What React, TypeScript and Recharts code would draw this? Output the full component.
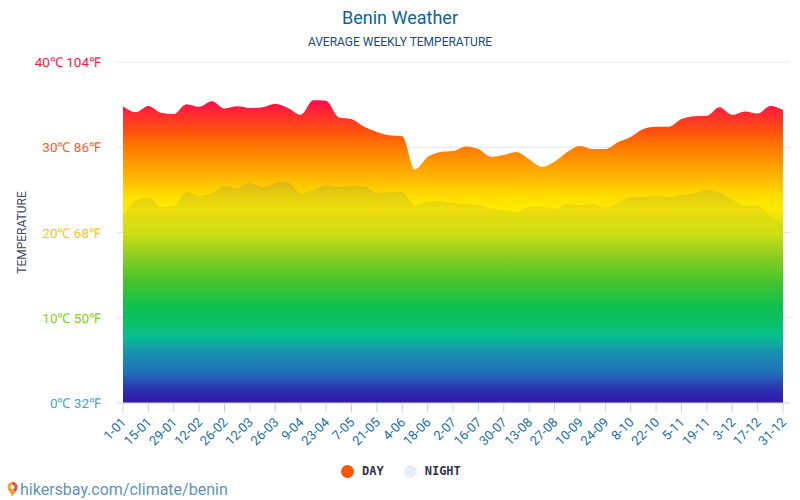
import { AreaChart, Area, XAxis, YAxis, CartesianGrid } from 'recharts';

const dates = [
  '1-01', '8-01', '15-01', '22-01', '29-01', '5-02', '12-02', '19-02', '26-02', '5-03', '12-03', '19-03', '26-03',
  '2-04', '9-04', '16-04', '23-04', '30-04', '7-05', '14-05', '21-05', '28-05', '4-06', '11-06', '18-06', '25-06',
  '2-07', '9-07', '16-07', '23-07', '30-07', '6-08', '13-08', '20-08', '27-08', '3-09', '10-09', '17-09', '24-09',
  '1-10', '8-10', '15-10', '22-10', '29-10', '5-11', '12-11', '19-11', '26-11', '3-12', '10-12', '17-12', '24-12', '31-12',
];

const dayTemps = [
  34.8, 34.1, 34.85, 34.05, 33.9, 35.05, 34.75, 35.4, 34.55, 34.8, 34.6, 34.7, 35.1,
  34.6, 33.8, 35.5, 35.45, 33.5, 33.3, 32.4, 31.8, 31.4, 31.3, 27.4, 28.85, 29.45,
  29.55, 30.1, 29.8, 28.9, 29.1, 29.45, 28.6, 27.7, 28.3, 29.45, 30.15, 29.8, 29.8,
  30.6, 31.2, 32.15, 32.4, 32.4, 33.3, 33.65, 33.7, 34.7, 33.8, 34.2, 33.95, 34.85, 34.4,
];

const nightTemps = [
  21.9, 23.7, 24.05, 23.0, 23.1, 24.75, 24.3, 24.6, 25.45, 25.2, 25.8, 25.3, 25.8,
  25.95, 24.6, 25.0, 25.55, 25.35, 25.45, 25.4, 24.65, 24.75, 24.75, 23.2, 23.6, 23.7,
  23.45, 23.35, 23.2, 22.85, 22.65, 22.4, 23.0, 23.0, 22.8, 23.35, 23.2, 23.35, 22.9,
  23.5, 24.15, 24.15, 24.3, 24.15, 24.4, 24.6, 25.0, 24.7, 23.9, 23.1, 23.2, 21.85, 21.1,
];

const yTicks = [0, 10, 20, 30, 40];
const yLabels: Record<number, string> = {
  0: '0℃ 32℉',
  10: '10℃ 50℉',
  20: '20℃ 68℉',
  30: '30℃ 86℉',
  40: '40℃ 104℉',
};
const yColors: Record<number, string> = {
  0: '#3fa3dc',
  10: '#7ed321',
  20: '#f4c80f',
  30: '#ff5a26',
  40: '#ff1a3c',
};

const legendItems = [
  { name: 'DAY', color: '#ff5500' },
  { name: 'NIGHT', color: '#e8eef8' },
];

const dayStops = [
  ['0%', '#ff1048'],
  ['2%', '#ff1a40'],
  ['10%', '#ff5010'],
  ['15.5%', '#ff7a00'],
  ['24%', '#ffae00'],
  ['32%', '#ffe000'],
  ['36%', '#ffea00'],
  ['38.6%', '#ece40a'],
  ['44%', '#cede14'],
  ['52%', '#88cc22'],
  ['60%', '#44c42c'],
  ['68%', '#10c050'],
  ['73.6%', '#08c068'],
  ['78%', '#08bf90'],
  ['83.5%', '#1a90b0'],
  ['90%', '#2070b8'],
  ['95.7%', '#2c30b0'],
  ['100%', '#3018a8'],
];

const chartData = dates.map((date, i) => ({ date, day: dayTemps[i], night: nightTemps[i] }));

function YTick({ x, y, payload }: any) {
  return (
    <text x={x - 8} y={y + 5} textAnchor="end" fontSize={13.5} fontFamily="Roboto" fill={yColors[payload.value]}>
      {yLabels[payload.value]}
    </text>
  );
}

function XTick({ x, y, payload }: any) {
  return (
    <text
      x={x + 4}
      y={y + 9}
      textAnchor="end"
      fontSize={13}
      fontFamily="Roboto"
      fill="#1a6ea8"
      transform={`rotate(-45 ${x + 4} ${y + 9})`}
    >
      {payload.value}
    </text>
  );
}

function LegendRow() {
  return (
    <div style={{ position: 'absolute', left: 341, top: 464, display: 'flex', gap: 20, fontFamily: 'DejaVu Sans Mono', fontWeight: 700, fontSize: 12, color: '#33334a' }}>
      {legendItems.map((item) => (
        <div key={item.name} style={{ display: 'flex', alignItems: 'center', gap: 8 }}>
          <span style={{ width: 13, height: 13, borderRadius: '50%', background: item.color }} />
          {item.name}
        </div>
      ))}
    </div>
  );
}

export default function App() {
  return (
    <div style={{ position: 'absolute', left: 0, top: 0, width: 800, height: 500, background: '#fff', overflow: 'hidden' }}>
      <div style={{ position: 'absolute', top: 7, width: 800, textAlign: 'center', fontFamily: 'Roboto', fontSize: 18, color: '#0f639c' }}>
        Benin Weather
      </div>
      <div style={{ position: 'absolute', top: 35, width: 800, textAlign: 'center', fontFamily: 'Roboto', fontSize: 12, color: '#0d4f86' }}>
        AVERAGE WEEKLY TEMPERATURE
      </div>
      <AreaChart width={800} height={500} data={chartData} margin={{ top: 62, right: 10, bottom: 0, left: 0 }}>
        <defs>
          <linearGradient id="dayFill" x1="0" y1="0" x2="0" y2="1">
            {dayStops.map(([offset, color]) => (
              <stop key={offset} offset={offset} stopColor={color} />
            ))}
          </linearGradient>
          <linearGradient id="nightFill" x1="0" y1="0" x2="0" y2="1">
            <stop offset="0%" stopColor="#a8a830" stopOpacity={0.38} />
            <stop offset="14%" stopColor="#a8b030" stopOpacity={0.2} />
            <stop offset="24%" stopColor="#a8c030" stopOpacity={0} />
          </linearGradient>
        </defs>
        <CartesianGrid vertical={false} stroke="#e6e6e6" />
        <XAxis
          dataKey="date"
          interval={1}
          height={97}
          padding={{ left: 6, right: 7 }}
          tick={<XTick />}
          tickSize={9}
          tickLine={{ stroke: '#c9d5e6' }}
          axisLine={{ stroke: '#d5deeb' }}
        />
        <YAxis
          domain={[0, 40]}
          ticks={yTicks}
          width={117}
          tick={<YTick />}
          tickLine={false}
          axisLine={false}
          label={{ value: 'TEMPERATURE', angle: -90, position: 'insideLeft', offset: 22, style: { fontFamily: 'Roboto', fontSize: 12, fill: '#3d4a6b', textAnchor: 'middle' } }}
        />
        <Area type="monotone" dataKey="day" stroke="none" fill="url(#dayFill)" fillOpacity={1} dot={false} activeDot={false} isAnimationActive={false} />
        <Area type="monotone" dataKey="night" stroke="none" fill="url(#nightFill)" fillOpacity={1} dot={false} activeDot={false} isAnimationActive={false} />
      </AreaChart>
      <LegendRow />
      <div style={{ position: 'absolute', left: 20, top: 480, fontFamily: 'Roboto', fontSize: 16, color: '#5f93b8' }}>
        hikersbay.com/climate/benin
      </div>
      <svg style={{ position: 'absolute', left: 6, top: 481 }} width={13} height={16} viewBox="0 0 13 16">
        <path d="M6.5 15.5 C4 11 1.5 9 1.5 6 A5 5 0 0 1 11.5 6 C11.5 9 9 11 6.5 15.5 Z" fill="#f4a13a" />
        <path d="M6.5 1 A5 5 0 0 1 11.5 6 C11.5 8 10 10 9 11 L6.5 6 Z" fill="#e0524a" />
        <circle cx={6.5} cy={6} r={2} fill="#fff" />
      </svg>
    </div>
  );
}
